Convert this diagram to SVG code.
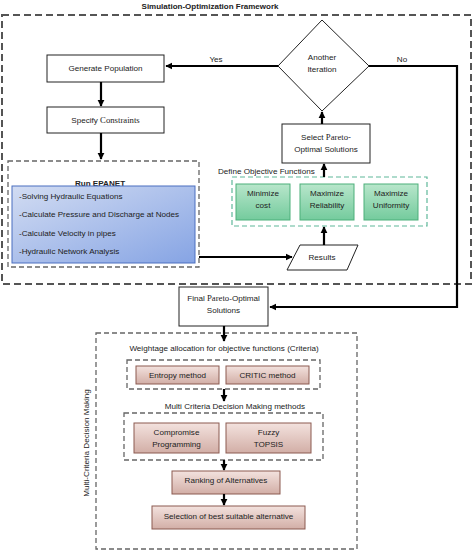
<svg xmlns="http://www.w3.org/2000/svg" width="474" height="553" viewBox="0 0 474 553">
<defs>
<style>
text{font-family:"Liberation Sans",Arial,sans-serif;font-size:8.1px;fill:#222;}
.c{text-anchor:middle;}
.b{font-weight:bold;}
.t{font-size:8px;}
.sf{font-family:"Liberation Serif","Times New Roman",serif;font-size:8.7px;}
.box{fill:#fff;stroke:#222;stroke-width:1;}
.dash{fill:none;stroke:#555;stroke-width:2;stroke-dasharray:7,4;}
.dash2{fill:none;stroke:#666;stroke-width:1.3;stroke-dasharray:5,3;}
.gdash{fill:none;stroke:#5fb89a;stroke-width:1.2;stroke-dasharray:5,3;}
.grn{fill:url(#gg);stroke:#4caf7a;stroke-width:1;}
.brn{fill:url(#bg);stroke:#8b5a50;stroke-width:1;}
.conn{fill:none;stroke:#000;stroke-width:2.2;}
</style>
<linearGradient id="blu" x1="0" y1="0" x2="1" y2="1">
<stop offset="0" stop-color="#d2dcf2"/><stop offset="1" stop-color="#86a4e4"/>
</linearGradient>
<linearGradient id="gg" x1="0" y1="0" x2="0" y2="1">
<stop offset="0" stop-color="#b8e6cb"/><stop offset="1" stop-color="#74cb9d"/>
</linearGradient>
<linearGradient id="bg" x1="0" y1="0" x2="0" y2="1">
<stop offset="0" stop-color="#f3e2de"/><stop offset="1" stop-color="#d2aea6"/>
</linearGradient>
<marker id="ah" viewBox="0 0 10 10" refX="9" refY="5" markerWidth="3.2" markerHeight="3.2" orient="auto" markerUnits="strokeWidth">
<path d="M0,0 L10,5 L0,10 z" fill="#000"/>
</marker>
</defs>
<rect width="474" height="553" fill="#fff"/>

<g id="frame-sim">
<text class="c b t" x="210" y="9">Simulation-Optimization Framework</text>
<rect class="dash" x="2" y="15" width="469" height="269"/>
</g>

<g id="generate-population">
<rect class="box" x="47" y="55" width="117" height="27"/>
<text class="c" x="105.5" y="71">Generate Population</text>
</g>
<g id="specify-constraints">
<rect class="box" x="47" y="107" width="117" height="26"/>
<text class="c" x="105.5" y="123">Specify <tspan class="sf">Constraints</tspan></text>
</g>

<g id="another-iteration">
<polygon class="box" points="322,20 369,66 322,111 278,66"/>
<text class="c" x="322" y="60">Another</text>
<text class="c" x="322" y="72">Iteration</text>
</g>

<g id="select-pareto">
<rect class="box" x="282" y="124" width="88" height="39"/>
<text class="c" x="326" y="140">Select <tspan class="sf">Pareto-</tspan></text>
<text class="c" x="326" y="152">Optimal Solutions</text>
</g>

<g id="run-epanet">
<rect class="dash2" x="8" y="161" width="191" height="106"/>
<text class="c b" x="100" y="186">Run EPANET</text>
<rect x="12" y="186" width="183" height="77" fill="url(#blu)" stroke="#4a6fc0" stroke-width="1"/>
<text x="19" y="199">-Solving Hydraulic Equations</text>
<text x="19" y="217">-Calculate Pressure and Discharge at Nodes</text>
<text x="19" y="236">-Calculate Velocity in pipes</text>
<text x="19" y="254">-Hydraulic Network Analysis</text>
</g>

<g id="objective-functions">
<text x="218" y="174">Define Objective Functions</text>
<rect class="gdash" x="232" y="177" width="195" height="49"/>
<rect class="grn" x="236" y="184" width="54" height="36"/>
<text class="c" x="263" y="196">Minimize</text>
<text class="c" x="263" y="208">cost</text>
<rect class="grn" x="300" y="184" width="54" height="36"/>
<text class="c" x="327" y="196">Maximize</text>
<text class="c" x="327" y="208">Reliability</text>
<rect class="grn" x="364" y="184" width="54" height="36"/>
<text class="c" x="391" y="196">Maximize</text>
<text class="c" x="391" y="208">Uniformity</text>
</g>

<g id="results">
<polygon class="box" points="300,245 358,245 347,270 287,270"/>
<text class="c" x="322" y="260">Results</text>
</g>

<g id="final-pareto">
<rect class="box" x="179" y="287" width="89" height="39"/>
<text class="c" x="223.5" y="301">Final <tspan class="sf">Pareto</tspan>-Optimal</text>
<text class="c" x="223.5" y="313">Solutions</text>
</g>

<g id="mcdm">
<rect class="dash2" x="96" y="333" width="261" height="216"/>
<text class="c" transform="translate(89,443) rotate(-90)">Multi-Criteria Decision Making</text>
<text class="c" x="224" y="351">Weightage allocation for objective functions (Criteria)</text>
<rect class="dash2" x="127" y="360" width="193" height="29"/>
<rect class="brn" x="136" y="366" width="83" height="18"/>
<text class="c" x="177.5" y="378">Entropy method</text>
<rect class="brn" x="226" y="366" width="83" height="18"/>
<text class="c" x="267.5" y="378">CRITIC method</text>
<text class="c" x="235" y="409">Multi Criteria Decision Making methods</text>
<rect class="dash2" x="124" y="413" width="199" height="47"/>
<rect class="brn" x="134" y="423" width="85" height="30"/>
<text class="c" x="176.5" y="435">Compromise</text>
<text class="c" x="176.5" y="447">Programming</text>
<rect class="brn" x="226" y="423" width="85" height="30"/>
<text class="c" x="268.5" y="435">Fuzzy</text>
<text class="c" x="268.5" y="447">TOPSIS</text>
</g>
<g id="ranking">
<rect class="brn" x="172" y="471" width="108" height="23"/>
<text class="c" x="226" y="483">Ranking of Alternatives</text>
</g>
<g id="selection">
<rect class="brn" x="152" y="506" width="153" height="23"/>
<text class="c" x="228.5" y="519">Selection of best suitable alternative</text>
</g>

<g id="connectors">
<line class="conn" x1="278" y1="66" x2="166" y2="66" marker-end="url(#ah)"/>
<text class="c" x="216" y="62">Yes</text>
<polyline class="conn" points="369,66 457,66 457,307 270,307" marker-end="url(#ah)"/>
<text class="c" x="402" y="62">No</text>
<line class="conn" x1="101" y1="82" x2="101" y2="106" marker-end="url(#ah)"/>
<line class="conn" x1="101" y1="133" x2="101" y2="159" marker-end="url(#ah)"/>
<line class="conn" x1="322" y1="124" x2="322" y2="112" marker-end="url(#ah)"/>
<line class="conn" x1="324" y1="177" x2="324" y2="164" marker-end="url(#ah)"/>
<line class="conn" x1="324" y1="245" x2="324" y2="227" marker-end="url(#ah)"/>
<line class="conn" x1="199" y1="257" x2="292" y2="257" marker-end="url(#ah)"/>
<line class="conn" x1="224" y1="326" x2="224" y2="341" marker-end="url(#ah)"/>
<line class="conn" x1="224" y1="389" x2="224" y2="401" marker-end="url(#ah)"/>
<line class="conn" x1="224" y1="460" x2="224" y2="470" marker-end="url(#ah)"/>
<line class="conn" x1="224" y1="494" x2="224" y2="505" marker-end="url(#ah)"/>
</g>
</svg>
